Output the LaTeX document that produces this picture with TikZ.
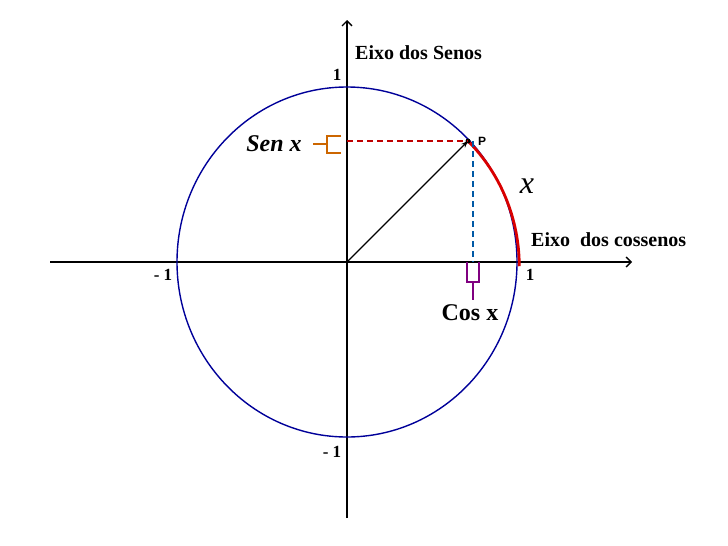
\documentclass[tikz,border=0pt]{standalone}
\usepackage{fontspec}
\usetikzlibrary{arrows.meta}
\setmainfont{Liberation Serif}
\newfontfamily\sansf{Liberation Sans}
\begin{document}
\begin{tikzpicture}[x=1pt,y=-1pt,
  lbl/.style={font=\bfseries\fontsize{17}{19}\selectfont,inner sep=0pt},
  axis/.style={line width=1.4pt,-{Straight Barb[length=5pt]}}]
\useasboundingbox (0,0) rectangle (728,546);
\coordinate (O) at (347,262);
\coordinate (xs) at (50,262); \coordinate (xe) at (632,262);
\coordinate (ys) at (347,518); \coordinate (ye) at (347,20);
\draw[axis] (xs) -- (xe);
\draw[axis] (ys) -- (ye);
\draw[blue!60!black,line width=1.4pt] (O) ellipse [x radius=170,y radius=175];
\coordinate (P) at (468,141);
\coordinate (Q) at (517,262);
\draw[red!85!black,line width=2.8pt] (P) arc[start angle=-45.7,end angle=0,x radius=170,y radius=175];
\draw[line width=1.4pt,-{Stealth[length=7pt]}] (O) -- (P);
\fill (P) circle (2.5);
\coordinate (sy) at (347,141);
\draw[red!75!black,line width=1.2pt,dash pattern=on 6pt off 4pt] (sy) -- (P);
\coordinate (cx) at (473,262);
\draw[teal!70!blue,line width=1.2pt,dash pattern=on 6pt off 4pt] (473,141) -- (cx);
\draw[orange!80!black,line width=1.2pt] (341,136) -- (327,136) -- (327,153) -- (341,153) (327,144) -- (313,144);
\draw[violet,line width=1.2pt] (467,262) -- (467,282) -- (479,282) -- (479,262) (473,282) -- (473,300);
\node[lbl,anchor=west] (es) at (355,53) {\fontsize{20}{22}\selectfont Eixo dos Senos};
\node[lbl,anchor=west] (ec) at (531,240) {\fontsize{20}{22}\selectfont Eixo\ \ dos cossenos};
\node[lbl] (y1) at (337,75) {1};
\node[lbl] (x1) at (530,275) {1};
\node[lbl] (xm) at (163,275) {- 1};
\node[lbl] (ym) at (332,452) {- 1};
\node[lbl,font=\bfseries\itshape\fontsize{24}{26}\selectfont] (sen) at (274,144) {Sen x};
\node[lbl,font=\bfseries\fontsize{24}{26}\selectfont] (cos) at (470,313) {Cos x};
\node[inner sep=0pt,font=\itshape\fontsize{32}{34}\selectfont] (xl) at (527,186) {x};
\node[inner sep=0pt,font=\sansf\bfseries\fontsize{12}{14}\selectfont] (pl) at (482,141) {P};
\end{tikzpicture}
\end{document}
